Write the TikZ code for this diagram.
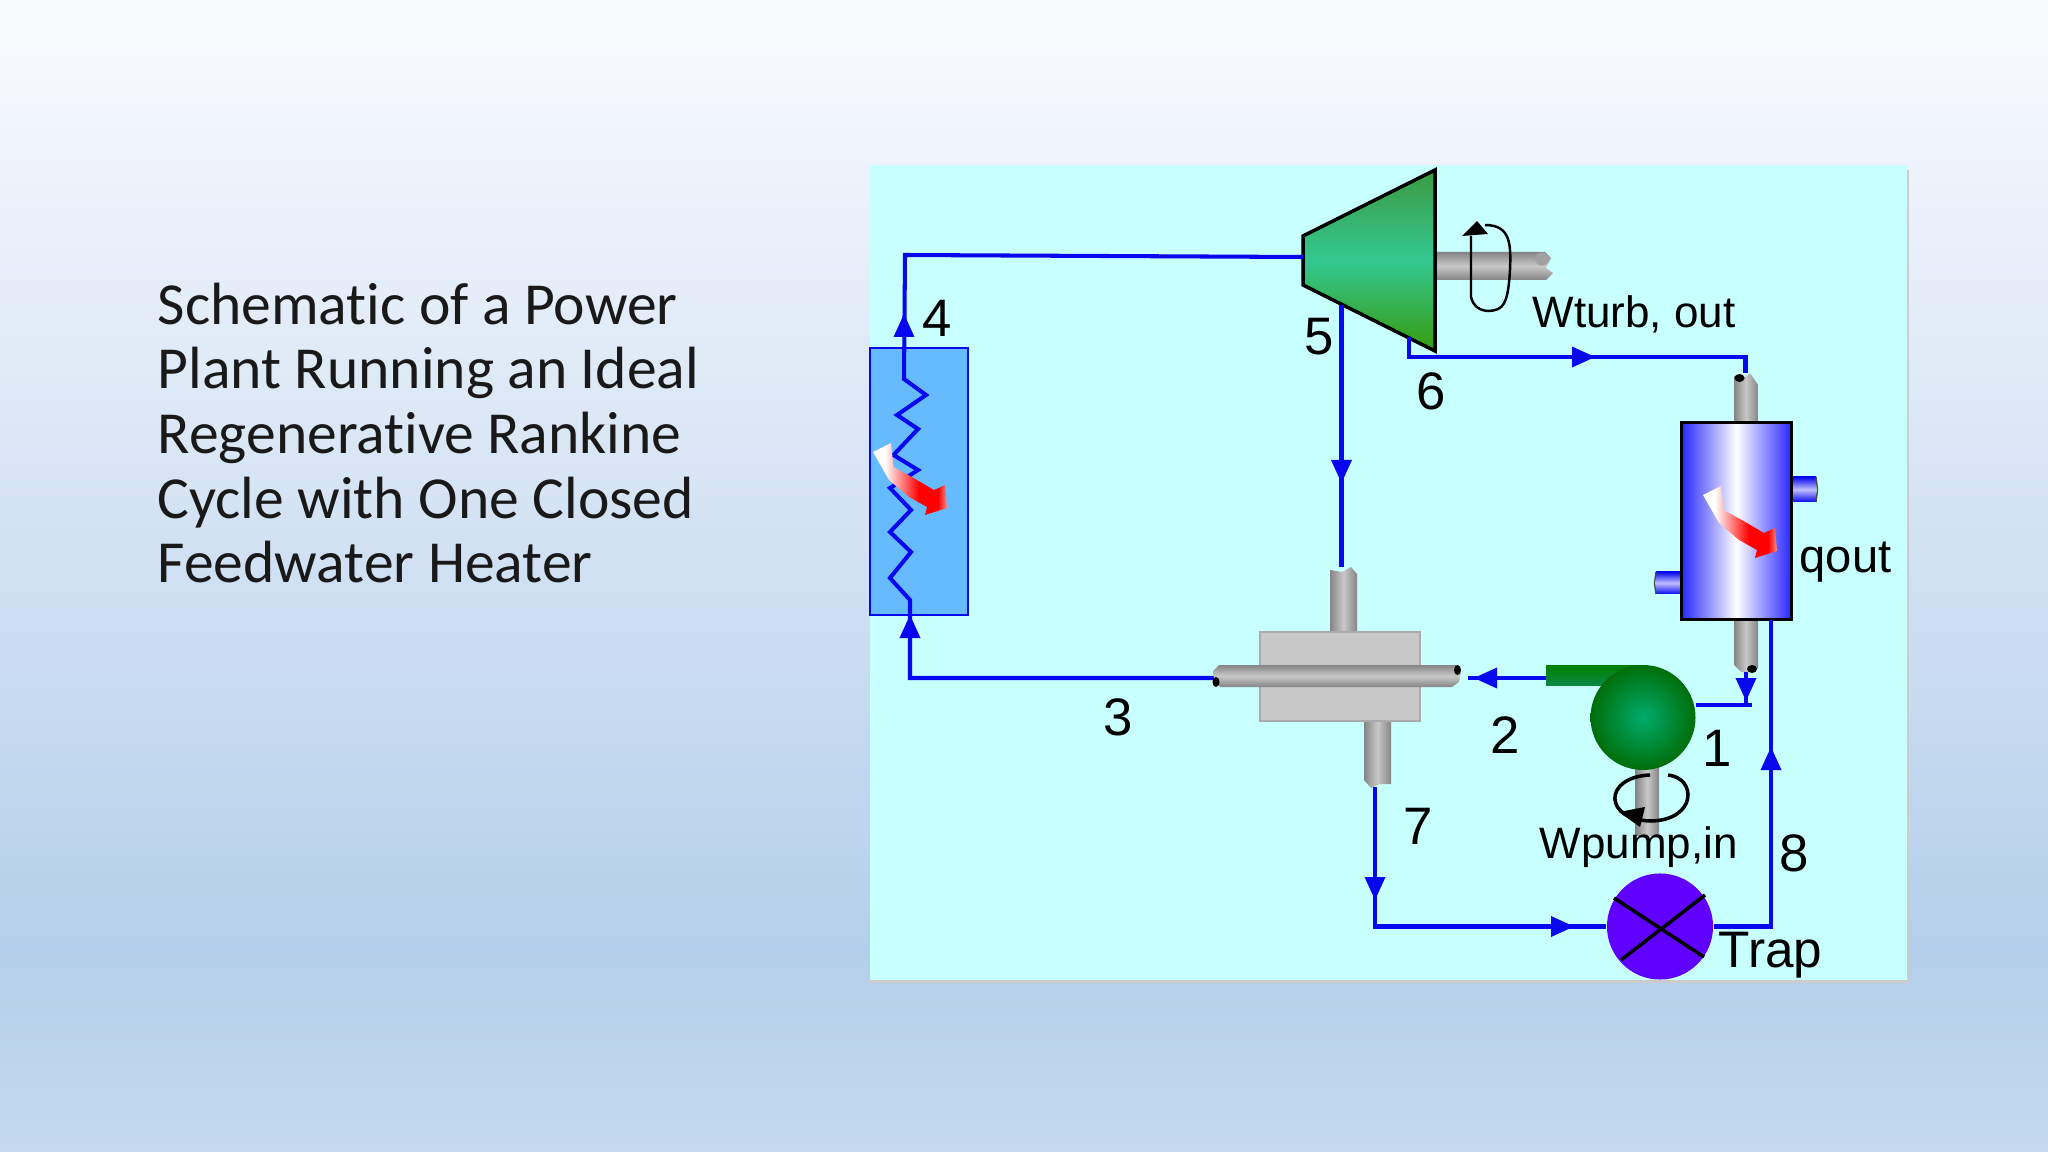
\documentclass[tikz,border=0pt]{standalone}
\usepackage{fontspec}
\setmainfont{Liberation Sans}
\newfontfamily\slidefont[Ligatures=NoCommon]{Carlito}
\usepackage{xcolor}
\usetikzlibrary{shapes.geometric,positioning,calc}

\definecolor{bgtop}{HTML}{FAFBFE}
\definecolor{bgmid}{HTML}{B4CFEB}
\definecolor{bgbot}{HTML}{C4D9F0}
\definecolor{panelcol}{HTML}{C8FFFF}
\definecolor{heatercol}{HTML}{66BBFF}
\definecolor{flowcol}{HTML}{0808F0}
\definecolor{pipedark}{HTML}{858585}
\definecolor{pipelight}{HTML}{C8C8C8}
\definecolor{blockcol}{HTML}{C8C8C8}
\definecolor{blockline}{HTML}{ABABAB}
\definecolor{trapcol}{HTML}{6000FF}
\definecolor{turbtop}{HTML}{3C9B41}
\definecolor{turbmid}{HTML}{34C891}
\definecolor{turbbot}{HTML}{379B0F}
\definecolor{pumpin}{HTML}{00AC6C}
\definecolor{pumpout}{HTML}{006E0A}

\pgfdeclarehorizontalshading{heatshade}{100bp}{color(0bp)=(white); color(33bp)=(white); color(56bp)=(red); color(69bp)=(red); color(75bp)=(red!45!white); color(100bp)=(red!45!white)}

\tikzset{
  flow/.style={draw=flowcol, line width=1.15pt},
  num/.style={font=\fontsize{15}{15}\selectfont, inner sep=0pt},
  lab/.style={inner sep=0pt, anchor=base west},
  pipev/.style={left color=pipedark, right color=pipedark, middle color=pipelight},
  pipeh/.style={top color=pipedark, bottom color=pipedark, middle color=pipelight},
  stub/.style={top color=flowcol, bottom color=flowcol, middle color=blue!25!white},
  flowtip/.pic={\fill[flowcol] (0,-10.5) -- (23,0) -- (0,10.5) -- cycle;},
  heatarrow/.pic={\shade[shading=heatshade]
    (18,-9) -- (20.5,15) -- (40.5,26) -- (61,38) -- (72,33) -- (74,56) -- (52,63) -- (54,55)
    -- (36,45) -- (16,28) -- (0,0) -- cycle;}
}

\begin{document}
\begin{tikzpicture}[x=0.01cm, y=-0.01cm]

\useasboundingbox (0,0) rectangle (2048,1152);
\shade[top color=bgtop, bottom color=bgmid] (0,0) rectangle (2048,950);
\shade[top color=bgmid, bottom color=bgbot] (0,950) rectangle (2048,1152);

\fill[black!20] (870,170) rectangle (1909,983);
\fill[panelcol] (870,165) rectangle (1907,980);

\node (title) [anchor=north west, align=left, inner sep=0pt, text=black!90,
  font=\slidefont\fontsize{16.95}{18.4}\selectfont] at (157,282)
  {Schematic of a Power\\Plant Running an Ideal\\Regenerative Rankine\\Cycle with One Closed\\Feedwater Heater};

\node (heater) [rectangle, draw=flowcol, fill=heatercol, line width=0.6pt, inner sep=0pt,
  minimum width=0.98cm, minimum height=2.67cm] at (919,481.5) {};
\node (cooler) [rectangle, inner sep=0pt, minimum width=1.09cm, minimum height=1.96cm] at (1736.5,521) {};
\node (pump) [circle, inner sep=0pt, minimum size=1.05cm] at (1643,717.5) {};
\node (trap) [circle, fill=trapcol, inner sep=0pt, minimum size=1.06cm] at (1660,926.5) {};

\coordinate (turbIn) at (1303,257);
\coordinate (turbBleed) at (1341.5,305);
\coordinate (turbOut) at (1409,337);
\coordinate (fwhTop) at (1341.5,567);
\coordinate (fwhLeft) at (1215,678);
\coordinate (fwhDrain) at (1375,787);
\coordinate (coolIn) at (1745.5,373);
\coordinate (coolOut) at (1746,672);
\coordinate (coolDrain) at (1771,620);
\coordinate (pumpOut) at (1546,678);
\coordinate (fwhRight) at (1468,678);

\shade[pipeh] (1435,252) -- (1545,252) -- (1551,258) -- (1546,268) -- (1553,273) -- (1546,280) -- (1435,280) -- cycle;
\fill[pipelight!80!black] (1542,259) ellipse [x radius=7, y radius=6.5];

\shade[top color=turbtop, bottom color=turbbot, middle color=turbmid]
  (1303,236) -- (1435,170) -- (1435,351) -- (1303,285) -- cycle;
\draw[line width=1pt, line join=miter] (1303,236) -- (1435,170) -- (1435,351) -- (1303,285) -- cycle;

\draw[flow] (turbIn) -- (905,255) -- (904,379) -- (926,395) -- (897,415) -- (918,429) -- (893.5,455)
  -- (918,470) -- (890,488) -- (911,510) -- (890,532) -- (911,552) -- (890,578) -- (910,600) -- (910,678) -- (fwhLeft);
\pic[rotate=90] at (904,337) {flowtip};
\pic[rotate=90] at (910,638) {flowtip};
\pic at (873,452) {heatarrow};

\draw[flow] (turbBleed) -- (fwhTop);
\pic[rotate=-90] at (1341.5,460) {flowtip};

\draw[flow] (turbOut) -- (1409,357) -- (1745.5,357) -- (coolIn);
\pic at (1572,357) {flowtip};

\shade[pipev] (1734,423) -- (1734,376) -- (1745,377) -- (1750,373) -- (1758,385) -- (1758,423) -- cycle;
\fill (1739.5,378) ellipse [x radius=5, y radius=4];
\shade[pipev] (1734,619) -- (1734,665) -- (1741,672) -- (1752,672) -- (1758,668) -- (1758,619) -- cycle;
\fill (1752,669) ellipse [x radius=5, y radius=4];

\shade[stub] (1791,477) rectangle (1816,502);
\draw[line width=0.4pt, draw=black!70] (1816,477) -- (1817.5,490) -- (1816,502);
\shade[stub] (1656,572) rectangle (1682,594);
\draw[line width=0.4pt, draw=black!70] (1656,572) -- (1654.5,583) -- (1656,594);

\shade[left color=blue!85!white, right color=blue!85!white, middle color=white] (cooler.south west) rectangle (cooler.north east);
\draw[line width=0.9pt] (cooler.south west) rectangle (cooler.north east);
\pic at (1703,495) {heatarrow};

\shade[pipev] (1330,632) -- (1330,570) -- (1342,572) -- (1351,567) -- (1357,574) -- (1357,632) -- cycle;
\shade[pipev] (1364,721) -- (1364,780) -- (1371,788) -- (1380,784) -- (1391,784) -- (1391,721) -- cycle;
\node (fwh) [rectangle, draw=blockline, fill=blockcol, line width=0.8pt, inner sep=0pt,
  minimum width=1.6cm, minimum height=0.89cm] at (1340,676.5) {};
\shade[pipeh] (1219,665) -- (1457,665) -- (1461,672) -- (1459,682) -- (1452,687) -- (1220,687) -- (1214,678) -- (1213,671) -- cycle;
\fill (1216,682) ellipse [x radius=3.5, y radius=5];
\fill (1457.5,670) ellipse [x radius=3.5, y radius=5];

\draw[flow] (pumpOut) -- (fwhRight);
\pic[rotate=180] at (1497,678) {flowtip};

\draw[flow] (coolOut) -- (1746,705) -- (pump.east |- 0,705);
\draw[flow] (1752,705) -- (1746,705);
\pic[rotate=-90] at (1746,678) {flowtip};

\shade[pipev] (1635.4,760) rectangle (1659,835);
\draw[line width=1pt] (1668,775) .. controls (1697,778) and (1697,820) .. (1651,821)
  .. controls (1603,820) and (1603,777) .. (1650,775);
\fill (1619,812) -- (1645,807) -- (1640,827) -- cycle;

\shade[top color=green!50!black, bottom color={rgb,255:red,10;green,135;blue,70}] (1546,665) rectangle (1640,685);
\shade[inner color=pumpin, outer color=pumpout] (pump) circle (52.5);

\draw[line width=0.7pt] (1471,236) -- (1471,297) .. controls (1473,306) and (1480,311) .. (1489,311)
  .. controls (1503,310) and (1508,305) .. (1510,270) .. controls (1511,245) and (1511,225) .. (1485,225);
\fill (1477,221) -- (1462,236) -- (1488,234) -- cycle;

\draw[line width=1pt] (1614,898) -- (1704,957);
\draw[line width=1pt] (1621,960) -- (1705,895);

\draw[flow] (fwhDrain) |- (trap.west);
\pic[rotate=-90] at (1375,877) {flowtip};
\pic at (1551,926.5) {flowtip};
\draw[flow] (trap.east) -| (coolDrain);
\pic[rotate=90] at (1771,770) {flowtip};

\node (n1) [num] at (1717,748) {1};
\node (n2) [num] at (1505.6,735) {2};
\node (n3) [num] at (1118,717) {3};
\node (n4) [num] at (937,318) {4};
\node (n5) [num] at (1319,337) {5};
\node (n6) [num] at (1431,391) {6};
\node (n7) [num] at (1418,826) {7};
\node (n8) [num] at (1794,853) {8};
\node (wturb) [lab, font=\fontsize{12.5}{15}\selectfont] at (1532,328) {Wturb, out};
\node (qout) [lab, font=\fontsize{13.4}{15}\selectfont] at (1799,573) {qout};
\node (wpump) [lab, font=\fontsize{12.5}{15}\selectfont] at (1539,858) {Wpump,in};
\node (traplab) [lab, font=\fontsize{14.6}{15}\selectfont] at (1718,967) {Trap};

\end{tikzpicture}
\end{document}
